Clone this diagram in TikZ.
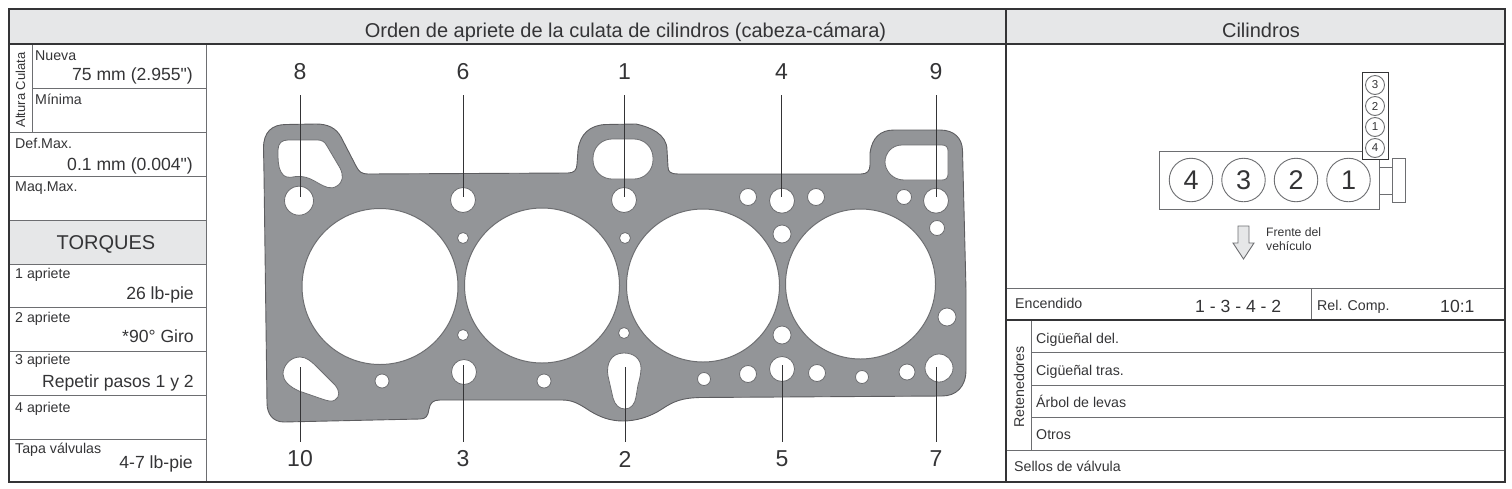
\documentclass[tikz,border=0pt]{standalone}
\usepackage{fontspec}
\setmainfont{Liberation Sans}
\newfontfamily\plainf{Liberation Sans}
\definecolor{ink}{HTML}{343436}
\definecolor{band}{HTML}{E6E7E8}
\definecolor{gasket}{HTML}{939598}
\definecolor{rule}{HTML}{6D6E71}
\newcommand{\fs}[1]{\fontsize{#1}{#1}\selectfont}
\newcommand{\inchmark}{{\plainf"}}
\tikzset{
  thickrule/.style={draw=ink,line width=2.8pt},
  thinrule/.style={draw=rule,line width=1pt},
  txt/.style={inner sep=0pt,text=ink,anchor=base west},
  small/.style={txt,font=\fs{14.2}},
  mid/.style={txt,font=\fs{14.2}},
  val/.style={txt,anchor=base east,font=\fs{17.6}},
  head/.style={txt,anchor=base,font=\fs{20}},
  side/.style={txt,anchor=base,rotate=90},
  hole/.style={fill=white,draw=rule,line width=0.8pt},
  leader/.style={draw=ink,line width=0.9pt},
  toplabel/.style={inner sep=0pt,text=ink,font=\fs{23},minimum height=46pt},
  botlabel/.style={inner sep=0pt,text=ink,font=\fs{23},minimum height=34pt},
  bigcyl/.style={circle,draw=rule,line width=0.9pt,inner sep=0pt,minimum size=43.5pt,text=ink,font=\fs{27},fill=white},
  smallcyl/.style={circle,draw=rule,line width=0.9pt,inner sep=0pt,minimum size=19pt,text=ink,font=\fs{11.5},fill=white},
  partbox/.style={draw=rule,line width=1pt,fill=white},
}
\begin{document}
\begin{tikzpicture}[x=1pt,y=-1pt]
\useasboundingbox (0,0) rectangle (1512,488);
% bands
\fill[band] (9,9) rectangle (1505,44);
\fill[band] (9,220) rectangle (206,264);
% thin rules, left panel
\draw[thinrule] (206,44) -- (206,482);
\draw[thinrule] (32,44) -- (32,132);
\draw[thinrule] (32,88) -- (206,88);
\draw[thinrule] (9,132) -- (206,132);
\draw[thinrule] (9,176) -- (206,176);
\draw[thinrule] (9,220) -- (206,220);
\draw[thinrule] (9,264) -- (206,264);
\draw[thinrule] (9,307) -- (206,307);
\draw[thinrule] (9,351) -- (206,351);
\draw[thinrule] (9,395) -- (206,395);
\draw[thinrule] (9,439) -- (206,439);
% thin rules, right panel
\draw[thinrule] (1006,288) -- (1505,288);
\draw[thinrule] (1311,288) -- (1311,320);
\draw[thinrule] (1031,320) -- (1031,450);
\draw[thinrule] (1031,352) -- (1505,352);
\draw[thinrule] (1031,385) -- (1505,385);
\draw[thinrule] (1031,417) -- (1505,417);
\draw[thinrule] (1006,450) -- (1505,450);
% thick rules
\draw[thickrule] (1006,320) -- (1505,320);
\draw[thickrule] (9,44) -- (1505,44);
\draw[thickrule] (1006,9) -- (1006,482);
\draw[thickrule] (9,9) rectangle (1505,482);
% texts
\node[head] (title) at (625.5,37) {Orden de apriete de la culata de cilindros (cabeza-cámara)};
\node[head] (cyltitle) at (1261,37) {Cilindros};
\node[side,font=\fs{13}] (altura) at (25,90) {Altura Culata};
\node[small] (nueva) at (35,60) {Nueva};
\node[val] (v1) at (193,80) {75 mm (2.955\inchmark)};
\node[small] (minima) at (35,104) {Mínima};
\node[small] (def) at (15,148) {Def.Max.};
\node[val] (v2) at (193,170) {0.1 mm (0.004\inchmark)};
\node[small] (maq) at (15,191) {Maq.Max.};
\node[head] (torques) at (106,249) {TORQUES};
\node[small] (a1) at (15,278) {1 apriete};
\node[val] (v3) at (194,299) {26 lb-pie};
\node[small] (a2) at (15,322) {2 apriete};
\node[val] (v4) at (194,342) {*90° Giro};
\node[small] (a3) at (15,364) {3 apriete};
\node[val] (v5) at (194,387) {Repetir pasos 1 y 2};
\node[small] (a4) at (15,412) {4 apriete};
\node[small] (tapa) at (15,453) {Tapa válvulas};
\node[val] (v6) at (193,468) {4-7 lb-pie};
\node[mid] (enc) at (1015,308) {Encendido};
\node[txt,font=\fs{17.6}] (orden) at (1195,312) {1 - 3 - 4 - 2};
\node[mid] (rel) at (1317,310) {Rel. Comp.};
\node[txt,font=\fs{17.6}] (ratio) at (1440,312) {10:1};
\node[side,font=\fs{14.2}] (ret) at (1024,387) {Retenedores};
\node[mid] (c1) at (1036,343) {Cigüeñal del.};
\node[mid] (c2) at (1036,375) {Cigüeñal tras.};
\node[mid] (c3) at (1036,407) {Árbol de levas};
\node[mid] (c4) at (1036,439) {Otros};
\node[mid] (c5) at (1014,471) {Sellos de válvula};
% gasket
\path[fill=gasket,draw=rule!85!black,line width=0.9pt]
 (264,174) -- (263.5,148)
 .. controls (263.5,132) and (272,124.5) .. (286,124.5)
 -- (316,124)
 .. controls (328,124) and (336,128) .. (341,137)
 -- (356,166)
 .. controls (359,172) and (362,174) .. (368,174)
 -- (568,173)
 .. controls (574,173) and (577,170) .. (577,164)
 -- (578,150)
 .. controls (580,134) and (590,125) .. (606,124.5)
 -- (636,124)
 .. controls (650,127) and (667,134) .. (667,150)
 -- (668,167)
 .. controls (668,172) and (671,174) .. (678,174)
 -- (861,174)
 .. controls (867,174) and (870,171) .. (870,165)
 -- (870,153)
 .. controls (872,138) and (880,130) .. (894,130)
 -- (940,130)
 .. controls (954,130) and (962,138) .. (962.5,150)
 -- (966,290) -- (966,370)
 .. controls (966,387) and (956,396) .. (942,396)
 -- (700,397.5)
 .. controls (682,398) and (674,401) .. (662,409)
 .. controls (650,417) and (636,421) .. (623,421)
 .. controls (610,421) and (600,417) .. (590,411)
 .. controls (578,403) and (572,400) .. (562,400)
 -- (440,400)
 .. controls (433,400) and (430,403) .. (429,409)
 .. controls (428,416) and (426,419) .. (420,419)
 -- (284,422)
 .. controls (273,422) and (267,414) .. (267,403)
 -- cycle;
% slots
\path[hole] (288,140) -- (318,140)
 .. controls (322,140) and (325,142) .. (327,146)
 -- (340,168)
 .. controls (344,176) and (343,182) .. (337,186)
 .. controls (331,190) and (325,187) .. (318,183)
 .. controls (308,177) and (303,176) .. (296,176.5)
 .. controls (289,178) and (284,178) .. (281,172)
 .. controls (278,167) and (278,160) .. (278,150)
 .. controls (278,143) and (282,140) .. (288,140) -- cycle;
\path[hole,rounded corners=19pt] (593,139) rectangle (653,179);
\path[hole] (902,145) -- (942,145)
 .. controls (946,145) and (948,147) .. (948,151)
 -- (948,174)
 .. controls (948,178) and (946,180) .. (942,180)
 -- (904,180)
 .. controls (892,180) and (885,170) .. (885,162)
 .. controls (885,153) and (892,145) .. (902,145) -- cycle;
\path[hole] (300,357)
 .. controls (306,357) and (311,361) .. (316,366)
 -- (335,385)
 .. controls (340,391) and (340,397) .. (335,400)
 .. controls (332,402) and (328,401) .. (322,399)
 -- (299,391)
 .. controls (290,387) and (283,381) .. (283,374)
 .. controls (283,366) and (290,357) .. (300,357) -- cycle;
\path[hole] (624,353)
 .. controls (634,353) and (641,359) .. (641,368)
 .. controls (641,373) and (640,378) .. (638,385)
 -- (636,397)
 .. controls (635,404) and (631,409) .. (625,409)
 .. controls (619,409) and (615,405) .. (613,398)
 -- (608,376)
 .. controls (606,365) and (610,353) .. (624,353) -- cycle;
% cylinders
\path[hole,line width=1pt] (380,286.5) circle[radius=78];
\path[hole,line width=1pt] (542,285.5) circle[radius=77.5];
\path[hole,line width=1pt] (703,285.5) circle[radius=76.5];
\path[hole,line width=1pt] (860.5,284) circle[radius=75];
% holes
\foreach \cx/\cy/\r in {
 299/200.7/14.5, 463/200/12.5, 624/200/12.5, 782/200.7/12.5, 936/200.7/12.5,
 748/197/8.5, 816/197/8.5, 782/234/9, 904/197/7.5, 937/228/7.5,
 463/238/5.5, 625/238/5.5, 463/335/5.5, 624/333/5.5,
 464/372/12.5, 544/381/7, 382/381/7, 704/379/6.5,
 748/374/8.5, 782/369/12.5, 817/373/8.5, 782/335/9, 862/377/6.5, 907/372/8, 939/368/14, 947/317/9}
 {\path[hole] (\cx,\cy) circle[radius=\r];}
% leaders
\foreach \n/\x/\ly/\ey in {8/300/72/197,6/463/72/197,1/624.5/72/197,4/781.5/72/197,9/936/72/197}
 {\node[toplabel] (n\n) at (\x,\ly) {\n};
  \coordinate (h\n) at (\x,\ey);
  \draw[leader] (n\n.south) -- (h\n);}
\foreach \n/\x/\ly/\ey in {10/300/459/367,3/463/459/365,2/625/459/367,5/782/459/365,7/936/459/367}
 {\node[botlabel] (n\n) at (\x,\ly) {\n};
  \coordinate (h\n) at (\x,\ey);
  \draw[leader] (n\n.north) -- (h\n);}
% engine diagram
\node[partbox,minimum width=220pt,minimum height=58pt,inner sep=0pt] (block) at (1269,180) {};
\node[partbox,minimum width=13pt,minimum height=27pt,inner sep=0pt] (hub) at (1385.5,180.5) {};
\node[partbox,minimum width=13pt,minimum height=44pt,inner sep=0pt] (pulley) at (1398.5,180) {};
\node[bigcyl] (c4b) at (1191,180) {4};
\node[bigcyl] (c3b) at (1243.5,180) {3};
\node[bigcyl] (c2b) at (1296,180) {2};
\node[bigcyl] (c1b) at (1348.5,180) {1};
\node[draw=ink,line width=1pt,fill=white,minimum width=26pt,minimum height=87pt,inner sep=0pt] (bank) at (1375,115.5) {};
\node[smallcyl] (s3) at (1375,85) {3};
\node[smallcyl] (s2) at (1375,106) {2};
\node[smallcyl] (s1) at (1375,127) {1};
\node[smallcyl] (s4) at (1375,148) {4};
\path[fill=band,draw=rule,line width=0.9pt] (1238,226) -- (1249,226) -- (1249,243) -- (1254,243) -- (1243.5,259) -- (1233,243) -- (1238,243) -- cycle;
\node[txt,font=\fs{12.2}] (fr1) at (1266,236) {Frente del};
\node[txt,font=\fs{12.2}] (fr2) at (1266,250) {vehículo};
\end{tikzpicture}
\end{document}
